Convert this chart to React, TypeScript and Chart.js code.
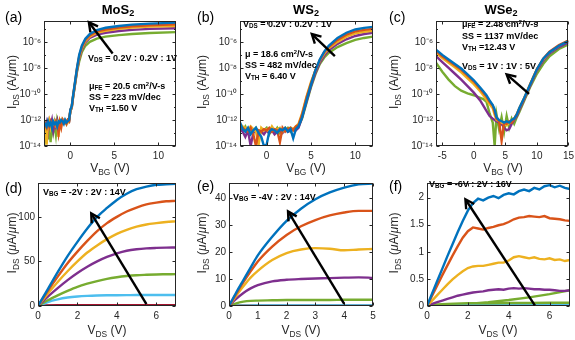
import React, { useEffect, useRef } from "react";
import { Chart, registerables } from "chart.js";

Chart.register(...registerables);

const BLUE = "#0072BD";
const ORANGE = "#D95319";
const YELLOW = "#EDB120";
const PURPLE = "#7E2F8E";
const GREEN = "#77AC30";
const CYAN = "#4DBEEE";
const DRED = "#A2142F";
const AXIS = "#262626";
const FONT = '"Liberation Sans", Arial, Helvetica, sans-serif';

// ---------- (a) MoS2 transfer, V_BG (V) vs log10 I_DS (A/um); V_DS = 1.0, 0.8, 0.6, 0.4, 0.2 V
const aVbg = [-3, -2.85, -2.7, -2.55, -2.4, -2.25, -2.1, -1.95, -1.8, -1.65, -1.5, -1.35, -1.2, -1.05, -0.9, -0.75, -0.6, -0.45, -0.3, -0.15,
  0, 0.15, 0.3, 0.5, 0.75, 1, 1.3, 1.7, 2.2, 3, 4, 5.5, 7, 9, 12];
const aBlue = [-12.2, -12.3, -12.5, -12.1, -12.4, -12.2, -12.6, -12.1, -12.3, -12.2, -12.5, -12.1, -12.2, -12.0, -12.1, -12.3, -12.0, -12.2, -12.1, -12.0,
  -11.2, -10.95, -10.15, -9.2, -8.0, -7.0, -6.3, -5.75, -5.4, -5.1, -4.92, -4.78, -4.68, -4.6, -4.52];
const aOrange = [-12.1, -12.4, -12.6, -12.2, -12.5, -12.1, -12.3, -12.2, -12.4, -12.1, -12.3, -13.0, -12.2, -12.6, -12.0, -12.2, -12.1, -12.3, -12.0, -12.1,
  -11.2, -11.0, -10.2, -9.25, -8.05, -7.1, -6.4, -5.85, -5.5, -5.2, -5.05, -4.9, -4.8, -4.72, -4.65];
const aYellow = [-12.2, -12.5, -13.9, -12.3, -12.0, -12.6, -12.2, -12.3, -12.1, -12.4, -12.2, -13.3, -12.1, -12.4, -12.0, -12.2, -12.0, -12.1, -12.2, -12.0,
  -11.3, -11.0, -10.2, -9.3, -8.1, -7.2, -6.5, -5.95, -5.6, -5.3, -5.15, -5.0, -4.9, -4.83, -4.78];
const aPurple = [-12.3, -12.6, -12.2, -12.9, -12.1, -12.4, -12.0, -12.8, -12.2, -12.5, -12.1, -12.9, -12.2, -12.3, -12.1, -12.0, -12.2, -12.1, -12.0, -12.1,
  -11.3, -11.05, -10.25, -9.35, -8.2, -7.3, -6.6, -6.05, -5.7, -5.45, -5.3, -5.17, -5.08, -5.0, -4.95];
const aGreen = [-12.4, -13.2, -12.0, -13.5, -12.2, -13.7, -12.1, -12.9, -12.3, -13.1, -12.0, -12.4, -12.1, -12.3, -12.0, -12.2, -12.1, -12.3, -12.0, -12.1,
  -11.3, -11.1, -10.3, -9.4, -8.3, -7.5, -6.8, -6.3, -6.0, -5.75, -5.6, -5.48, -5.4, -5.32, -5.25];

// ---------- (b) WS2 transfer
const bVbg = [-3, -2.7, -2.4, -2.1, -1.8, -1.5, -1.2, -0.9, -0.6, -0.3, 0, 0.3, 0.6, 0.9, 1.2, 1.5, 1.8, 2.1, 2.4, 2.7, 3.0, 3.3, 3.6,
  4, 4.5, 5, 5.5, 6, 6.5, 7, 8, 9, 10, 11, 12];
const bBlue = [-12.2, -12.7, -12.9, -12.6, -13.1, -12.8, -12.6, -13.0, -13.3, -14.0, -13.9, -12.9, -12.7, -12.8, -13.0, -12.7, -12.8, -12.6, -12.9, -12.7, -13.4, -12.7, -12.5,
  -11.8, -10.5, -9.3, -8.2, -7.35, -6.75, -6.3, -5.7, -5.3, -5.05, -4.93, -4.85];
const bOrange = [-12.5, -12.6, -12.8, -12.9, -12.6, -13.1, -14.0, -12.8, -12.9, -12.7, -12.8, -12.6, -12.9, -12.7, -12.8, -13.7, -12.6, -12.9, -12.7, -12.6, -12.8, -12.5, -12.4,
  -11.6, -10.3, -9.2, -8.2, -7.4, -6.8, -6.4, -5.85, -5.45, -5.2, -5.08, -5.0];
const bYellow = [-12.3, -12.5, -12.6, -12.8, -12.5, -12.7, -12.9, -13.9, -12.6, -12.8, -12.7, -12.9, -12.5, -12.8, -12.7, -12.6, -12.9, -12.6, -12.8, -12.6, -12.7, -12.5, -12.3,
  -11.5, -10.2, -9.1, -8.2, -7.45, -6.9, -6.5, -6.0, -5.6, -5.35, -5.22, -5.15];
const bPurple = [-12.7, -12.9, -13.3, -12.8, -14.0, -13.0, -12.8, -13.2, -12.9, -13.1, -12.8, -13.0, -12.8, -13.1, -12.9, -12.8, -13.0, -12.7, -12.9, -12.8, -12.7, -12.8, -12.6,
  -11.8, -10.6, -9.4, -8.4, -7.6, -7.05, -6.65, -6.15, -5.8, -5.55, -5.4, -5.3];
const bGreen = [-12.6, -12.8, -12.5, -13.0, -12.7, -12.9, -12.6, -13.0, -12.7, -12.8, -12.6, -13.1, -12.7, -12.9, -12.6, -13.0, -12.7, -12.8, -12.6, -12.9, -12.7, -12.6, -12.5,
  -11.9, -10.7, -9.5, -8.5, -7.7, -7.2, -6.85, -6.4, -6.1, -5.85, -5.7, -5.6];

// ---------- (c) WSe2 transfer; V_DS = 5, 4, 3, 2, 1 V
const cVbg = [-6, -5, -4, -3, -2, -1, 0, 1, 1.5, 2, 2.5, 3, 3.3, 3.6, 4, 4.4, 4.8, 5.2, 5.6, 6, 6.4, 6.8, 7.2, 8, 9, 10, 11, 12, 13.5, 15];
const cBlue = [-6.6, -7.0, -7.35, -7.7, -8.05, -8.5, -8.95, -9.5, -9.8, -10.1, -10.5, -10.85, -11.2, -11.8, -12.0, -12.1, -12.2, -12.1, -12.2, -12.0,
  -11.9, -11.6, -11.1, -10.3, -9.2, -8.1, -7.3, -6.8, -6.3, -5.95];
const cOrange = [-6.7, -7.1, -7.45, -7.8, -8.15, -8.6, -9.05, -9.6, -9.9, -10.2, -10.6, -10.9, -11.4, -11.9, -12.1, -13.6, -12.2, -12.3, -12.1, -12.2,
  -11.9, -11.6, -11.15, -10.35, -9.2, -8.1, -7.3, -6.75, -6.25, -5.9];
const cYellow = [-6.85, -7.25, -7.6, -7.95, -8.35, -8.8, -9.25, -9.8, -10.1, -10.45, -10.8, -11.1, -11.6, -12.0, -12.1, -12.2, -12.3, -12.4, -12.2, -12.1,
  -11.9, -11.55, -11.1, -10.3, -9.15, -8.1, -7.35, -6.8, -6.3, -5.9];
const cPurple = [-7.1, -7.55, -8.0, -8.45, -8.9, -9.4, -9.9, -10.5, -10.9, -11.3, -11.7, -11.9, -12.0, -12.1, -12.2, -12.3, -12.6, -12.8, -12.7, -12.3,
  -12.0, -11.7, -11.25, -10.4, -9.3, -8.2, -7.45, -6.9, -6.4, -6.05];
const cGreen = [-7.6, -8.3, -8.9, -9.4, -9.75, -9.95, -10.1, -10.3, -10.4, -10.6, -11.5, -12.2, -14.0, -11.6, -12.7, -11.8, -12.9, -11.7, -12.6, -11.9,
  -12.3, -11.8, -11.4, -10.5, -9.4, -8.45, -7.7, -7.1, -6.55, -6.2];

// ---------- (d) MoS2 output, V_DS (V) vs I_DS (uA/um); V_BG = 14 ... -2 V
const dVds = [0, 0.5, 1, 1.5, 2, 2.5, 3, 3.5, 4, 4.5, 5, 5.5, 6, 6.5, 7];
const dVbg14 = [0, 19, 38, 56, 72, 87, 100, 110, 119, 126, 131, 134, 136, 136.5, 137];
const dVbg12 = [0, 17, 33, 48, 61, 73, 84, 93, 100, 106, 110.5, 114, 116, 117.5, 118];
const dVbg10 = [0, 14, 27, 39, 50, 60, 68, 75, 81, 85.5, 89, 91.5, 93, 94.2, 95];
const dVbg8 = [0, 10.5, 20, 29, 37, 44, 50, 55, 59, 62, 63.7, 64.7, 65.2, 65.5, 65.7];
const dVbg6 = [0, 6.5, 12, 17, 21.5, 25, 28, 30.5, 32.3, 33.6, 34.5, 35, 35.4, 35.6, 35.8];
const dVbg4 = [0, 4.5, 7.5, 9.5, 10.7, 11.4, 11.8, 12, 12.1, 12.2, 12.3, 12.3, 12.4, 12.4, 12.4];
const dVbg2 = [0, 0.5, 0.8, 0.9, 1, 1, 1, 1, 1, 1, 1, 1, 1, 1, 1];
const dVbg0 = [0, 0.1, 0.1, 0.1, 0.1, 0.1, 0.1, 0.1, 0.1, 0.1, 0.1, 0.1, 0.1, 0.1, 0.1];
const dVbgM2 = [0, 0, 0, 0, 0, 0, 0, 0, 0, 0, 0, 0, 0, 0, 0];

// ---------- (e) WS2 output; V_BG = 14 ... -4 V
const eVds = [0, 0.25, 0.5, 0.75, 1, 1.5, 2, 2.5, 3, 3.5, 4, 4.5, 5];
const eVbg14 = [0, 5, 9.6, 14.2, 18.7, 25.6, 31.5, 36, 39.5, 42, 43.8, 45, 45.3];
const eVbg12 = [0, 4.5, 8.8, 12.8, 16.5, 22, 26.3, 29.5, 31.8, 33.5, 34.6, 35.2, 35.2];
const eVbg10 = [0, 3.8, 7.3, 10.5, 13, 17, 19.6, 20.9, 21.4, 21.2, 20.6, 20.9, 21.1];
const eVbg8 = [0, 2.6, 4.8, 6.5, 7.7, 9.1, 9.7, 10, 10.2, 10.3, 10.5, 10.6, 10.4];
const eVbg6 = [0, 1, 1.6, 1.9, 2, 2.1, 2.2, 2.2, 2.2, 2.2, 2.3, 2.3, 2.3];
const eVbg4 = [0, 0.1, 0.15, 0.15, 0.2, 0.2, 0.2, 0.2, 0.2, 0.2, 0.2, 0.2, 0.2];
const eVbgLow = [0, 0, 0, 0, 0, 0, 0, 0, 0, 0, 0, 0, 0];

// ---------- (f) WSe2 output; V_BG = 16 ... -6 V
const fVds = [0, 0.25, 0.5, 0.75, 1, 1.25, 1.5, 1.75, 2, 2.25, 2.5, 2.75, 3, 3.25, 3.5, 3.75, 4, 4.25, 4.5, 4.75, 5, 5.25, 5.5, 5.75, 6, 6.25, 6.5, 6.75, 7];
const fVbg16 = [0, 0.23, 0.46, 0.69, 0.92, 1.14, 1.36, 1.57, 1.76, 1.9, 1.98, 1.95, 2.0, 2.03, 1.99, 2.05, 2.08, 2.06, 2.12, 2.15, 2.12, 2.18, 2.15, 2.21, 2.23, 2.19, 2.22, 2.18, 2.16];
const fVbg14 = [0, 0.19, 0.38, 0.57, 0.75, 0.93, 1.1, 1.26, 1.38, 1.45, 1.43, 1.41, 1.44, 1.46, 1.49, 1.51, 1.55, 1.6, 1.63, 1.64, 1.66, 1.65, 1.64, 1.66, 1.62, 1.61, 1.6, 1.58, 1.57];
const fVbg12 = [0, 0.1, 0.2, 0.3, 0.4, 0.49, 0.57, 0.64, 0.7, 0.73, 0.74, 0.74, 0.76, 0.78, 0.8, 0.8, 0.84, 0.9, 0.92, 0.9, 0.88, 0.9, 0.87, 0.86, 0.88, 0.85, 0.86, 0.83, 0.85];
const fVbg10 = [0, 0.04, 0.07, 0.1, 0.13, 0.16, 0.19, 0.21, 0.23, 0.25, 0.26, 0.27, 0.29, 0.3, 0.31, 0.3, 0.32, 0.33, 0.32, 0.33, 0.32, 0.31, 0.31, 0.3, 0.3, 0.29, 0.28, 0.28, 0.29];
const fVdsC = [0, 0.5, 1, 2, 3, 4, 5, 6, 7];
const fVbg8 = [0, 0.03, 0.04, 0.05, 0.05, 0.055, 0.055, 0.06, 0.06];
const fVbg6 = [0, 0.01, 0.015, 0.02, 0.02, 0.02, 0.02, 0.02, 0.02];
const fVbgMid = [0, 0.005, 0.005, 0.005, 0.005, 0.005, 0.005, 0.005, 0.005];
const fVbgM4 = [0, 0.005, 0.008, 0.01, 0.01, 0.01, 0.01, 0.01, 0.01];
const fVbgM6 = [0, 0.01, 0.02, 0.04, 0.07, 0.11, 0.16, 0.22, 0.29];

// tick values
const topXTicksAB = [0, 5, 10];
const topXTicksC = [-5, 0, 5, 10, 15];
const logYTicks = [1e-14, 1e-12, 1e-10, 1e-8, 1e-6];
const logYMinor = [1e-13, 1e-11, 1e-9, 1e-7, 1e-5];
const dXTicks = [0, 2, 4, 6];
const dYTicks = [0, 50, 100];
const eXTicks = [0, 1, 2, 3, 4, 5];
const eYTicks = [0, 10, 20, 30, 40];
const fXTicks = [0, 2, 4, 6];
const fYTicks = [0, 0.5, 1, 1.5, 2];

type Series = { x: number[]; y: number[]; color: string; smooth?: boolean };
type PanelCfg = {
  l: number; t: number; r: number; b: number;
  yAxisW: number;
  xMin: number; xMax: number; xTicks: number[];
  log: boolean; yMin: number; yMax: number; yTicks: number[]; yMinor?: number[];
  series: Series[];
  arrow: number[];
  lineW: number;
};

const SUP: Record<string, string> = { "-": "\u207B", "0": "\u2070", "1": "\u00B9", "2": "\u00B2", "3": "\u00B3", "4": "\u2074", "5": "\u2075", "6": "\u2076", "7": "\u2077", "8": "\u2078", "9": "\u2079" };
const supStr = (s: string) => s.split("").map((c) => SUP[c] || c).join("");

function framePlugin(cfg: PanelCfg) {
  return {
    id: "frameArrow",
    afterDatasetsDraw(chart: any) {
      const { ctx, chartArea: a, scales } = chart;
      const xs = scales.x;
      const ys = scales.y;
      ctx.save();
      ctx.strokeStyle = AXIS;
      ctx.lineWidth = 1;
      const L = Math.round(a.left) + 0.5;
      const R = Math.round(a.right) - 0.5;
      const T = Math.round(a.top) + 0.5;
      const B = Math.round(a.bottom) - 0.5;
      ctx.strokeRect(L, T, R - L, B - T);
      ctx.beginPath();
      const tl = 3;
      cfg.xTicks.forEach((v) => {
        const p = Math.round(xs.getPixelForValue(v)) + 0.5;
        ctx.moveTo(p, B); ctx.lineTo(p, B - tl);
        ctx.moveTo(p, T); ctx.lineTo(p, T + tl);
      });
      cfg.yTicks.forEach((v) => {
        const p = Math.round(ys.getPixelForValue(v)) + 0.5;
        ctx.moveTo(L, p); ctx.lineTo(L + tl, p);
        ctx.moveTo(R, p); ctx.lineTo(R - tl, p);
      });
      (cfg.yMinor || []).forEach((v) => {
        const p = Math.round(ys.getPixelForValue(v)) + 0.5;
        ctx.moveTo(L, p); ctx.lineTo(L + 1.5, p);
        ctx.moveTo(R, p); ctx.lineTo(R - 1.5, p);
      });
      ctx.stroke();
      // arrow
      const [x1, y1, x2, y2] = cfg.arrow;
      const px1 = xs.getPixelForValue(x1);
      const py1 = ys.getPixelForValue(cfg.log ? Math.pow(10, y1) : y1);
      const px2 = xs.getPixelForValue(x2);
      const py2 = ys.getPixelForValue(cfg.log ? Math.pow(10, y2) : y2);
      const ang = Math.atan2(py2 - py1, px2 - px1);
      ctx.strokeStyle = "#000";
      ctx.lineWidth = 2.4;
      ctx.lineCap = "butt";
      ctx.lineJoin = "miter";
      ctx.beginPath();
      ctx.moveTo(px1, py1);
      ctx.lineTo(px2 - Math.cos(ang) * 1.5, py2 - Math.sin(ang) * 1.5);
      ctx.stroke();
      const hl = 10;
      const ha = 0.5;
      ctx.beginPath();
      ctx.moveTo(px2 - hl * Math.cos(ang - ha), py2 - hl * Math.sin(ang - ha));
      ctx.lineTo(px2, py2);
      ctx.lineTo(px2 - hl * Math.cos(ang + ha), py2 - hl * Math.sin(ang + ha));
      ctx.stroke();
      ctx.restore();
    },
  };
}

const PAD_TOP = 6;
const PAD_RIGHT = 8;
const X_AXIS_H = 18;

function Panel({ cfg }: { cfg: PanelCfg }) {
  const ref = useRef<HTMLCanvasElement>(null);
  const w = cfg.r - cfg.l + cfg.yAxisW + PAD_RIGHT;
  const h = cfg.b - cfg.t + PAD_TOP + X_AXIS_H;
  useEffect(() => {
    const tickFont = { family: FONT, size: 10 };
    const chart = new Chart(ref.current as HTMLCanvasElement, {
      type: "line",
      data: {
        datasets: cfg.series.map((s) => ({
          data: s.x.map((x, i) => ({ x, y: cfg.log ? Math.pow(10, s.y[i]) : s.y[i] })),
          borderColor: s.color,
          backgroundColor: s.color,
          borderWidth: cfg.lineW,
          pointRadius: 0,
          fill: false,
          tension: s.smooth ? 0.4 : 0,
          cubicInterpolationMode: s.smooth ? "monotone" : "default",
        })),
      },
      options: {
        animation: false,
        responsive: false,
        devicePixelRatio: 1,
        events: [],
        layout: { padding: { top: PAD_TOP, right: PAD_RIGHT, left: 0, bottom: 0 } },
        plugins: { legend: { display: false }, tooltip: { enabled: false }, title: { display: false } },
        scales: {
          x: {
            type: "linear",
            min: cfg.xMin,
            max: cfg.xMax,
            grid: { display: false, drawTicks: false },
            border: { display: false },
            ticks: { color: AXIS, font: tickFont, padding: 4, maxRotation: 0, autoSkip: false, callback: (v: any) => String(v) },
            afterBuildTicks: (s: any) => { s.ticks = cfg.xTicks.map((v) => ({ value: v })); },
            afterFit: (s: any) => { s.height = X_AXIS_H; },
          },
          y: {
            type: cfg.log ? "logarithmic" : "linear",
            min: cfg.yMin,
            max: cfg.yMax,
            grid: { display: false, drawTicks: false },
            border: { display: false },
            ticks: {
              color: AXIS, font: tickFont, padding: 3, autoSkip: false,
              callback: (v: any) => cfg.log ? "10" + supStr(String(Math.round(Math.log10(Number(v))))) : String(v),
            },
            afterBuildTicks: (s: any) => { s.ticks = cfg.yTicks.map((v) => ({ value: v })); },
            afterFit: (s: any) => { s.width = cfg.yAxisW; },
          },
        },
      } as any,
      plugins: [framePlugin(cfg) as any],
    });
    return () => chart.destroy();
  }, []);
  return (
    <canvas
      ref={ref}
      width={w}
      height={h}
      style={{ position: "absolute", left: cfg.l - cfg.yAxisW, top: cfg.t - PAD_TOP, width: w, height: h }}
    />
  );
}

const Sb = ({ children }: { children: any }) => (
  <sub style={{ fontSize: "0.7em", verticalAlign: "-0.3em", lineHeight: 0 }}>{children}</sub>
);
const Sp = ({ children }: { children: any }) => (
  <sup style={{ fontSize: "0.65em", verticalAlign: "0.5em", lineHeight: 0 }}>{children}</sup>
);

function Txt({ x, y, size, bold, center, rot, color, children }: any) {
  let tf = center ? "translate(-50%,-50%)" : "translate(0,-50%)";
  if (rot) tf += " rotate(-90deg)";
  return (
    <div
      style={{
        position: "absolute", left: x, top: y, transform: tf, fontFamily: FONT, fontSize: size,
        fontWeight: bold ? 700 : 400, whiteSpace: "nowrap", lineHeight: 1, color: color || "#000",
      }}
    >
      {children}
    </div>
  );
}

const TOP = 18, TOPB = 146, BOT = 180, BOTB = 306;
const LW = 2.4;

const cfgA: PanelCfg = {
  l: 44, t: TOP, r: 176, b: TOPB, yAxisW: 34, xMin: -3, xMax: 12, xTicks: topXTicksAB,
  log: true, yMin: 1e-14, yMax: 4e-5, yTicks: logYTicks, yMinor: logYMinor, lineW: LW,
  arrow: [4.8, -6.9, 2.1, -4.5],
  series: [
    { x: aVbg, y: aBlue, color: BLUE }, { x: aVbg, y: aOrange, color: ORANGE }, { x: aVbg, y: aYellow, color: YELLOW },
    { x: aVbg, y: aPurple, color: PURPLE }, { x: aVbg, y: aGreen, color: GREEN },
  ],
};
const cfgB: PanelCfg = {
  l: 240, t: TOP, r: 373, b: TOPB, yAxisW: 34, xMin: -3, xMax: 12, xTicks: topXTicksAB,
  log: true, yMin: 1e-14, yMax: 4e-5, yTicks: logYTicks, yMinor: logYMinor, lineW: LW,
  arrow: [7.7, -7.1, 5.1, -5.4],
  series: [
    { x: bVbg, y: bBlue, color: BLUE }, { x: bVbg, y: bOrange, color: ORANGE }, { x: bVbg, y: bYellow, color: YELLOW },
    { x: bVbg, y: bPurple, color: PURPLE }, { x: bVbg, y: bGreen, color: GREEN },
  ],
};
const cfgC: PanelCfg = {
  l: 436, t: TOP, r: 570, b: TOPB, yAxisW: 34, xMin: -6, xMax: 15, xTicks: topXTicksC,
  log: true, yMin: 1e-14, yMax: 4e-5, yTicks: logYTicks, yMinor: logYMinor, lineW: LW,
  arrow: [8.75, -10.0, 5.2, -8.5],
  series: [
    { x: cVbg, y: cBlue, color: BLUE }, { x: cVbg, y: cOrange, color: ORANGE }, { x: cVbg, y: cYellow, color: YELLOW },
    { x: cVbg, y: cPurple, color: PURPLE }, { x: cVbg, y: cGreen, color: GREEN },
  ],
};
const cfgD: PanelCfg = {
  l: 38, t: BOT, r: 176, b: BOTB, yAxisW: 26, xMin: 0, xMax: 7, xTicks: dXTicks,
  log: false, yMin: 0, yMax: 138, yTicks: dYTicks, lineW: LW,
  arrow: [5.5, 2, 2.7, 104],
  series: [
    { x: dVds, y: dVbg14, color: BLUE, smooth: true }, { x: dVds, y: dVbg12, color: ORANGE, smooth: true },
    { x: dVds, y: dVbg10, color: YELLOW, smooth: true }, { x: dVds, y: dVbg8, color: PURPLE, smooth: true },
    { x: dVds, y: dVbg6, color: GREEN, smooth: true }, { x: dVds, y: dVbg4, color: CYAN, smooth: true },
    { x: dVds, y: dVbg2, color: DRED, smooth: true }, { x: dVds, y: dVbg0, color: BLUE, smooth: true },
    { x: dVds, y: dVbgM2, color: ORANGE, smooth: true },
  ],
};
const cfgE: PanelCfg = {
  l: 229, t: BOT, r: 373, b: BOTB, yAxisW: 20, xMin: 0, xMax: 5, xTicks: eXTicks,
  log: false, yMin: 0, yMax: 45.5, yTicks: eYTicks, lineW: LW,
  arrow: [4.0, 0.8, 2.05, 35],
  series: [
    { x: eVds, y: eVbg14, color: BLUE, smooth: true }, { x: eVds, y: eVbg12, color: ORANGE, smooth: true },
    { x: eVds, y: eVbg10, color: YELLOW, smooth: true }, { x: eVds, y: eVbg8, color: PURPLE, smooth: true },
    { x: eVds, y: eVbg6, color: GREEN, smooth: true }, { x: eVds, y: eVbg4, color: CYAN, smooth: true },
    { x: eVds, y: eVbgLow, color: DRED }, { x: eVds, y: eVbgLow, color: BLUE },
    { x: eVds, y: eVbgLow, color: ORANGE }, { x: eVds, y: eVbgLow, color: YELLOW },
  ],
};
const cfgF: PanelCfg = {
  l: 427, t: BOT, r: 570, b: BOTB, yAxisW: 26, xMin: 0, xMax: 7, xTicks: fXTicks,
  log: false, yMin: 0, yMax: 2.27, yTicks: fYTicks, lineW: LW,
  arrow: [5.28, 0.01, 1.88, 1.97],
  series: [
    { x: fVds, y: fVbg16, color: BLUE }, { x: fVds, y: fVbg14, color: ORANGE },
    { x: fVds, y: fVbg12, color: YELLOW }, { x: fVds, y: fVbg10, color: PURPLE },
    { x: fVdsC, y: fVbg8, color: GREEN }, { x: fVdsC, y: fVbg6, color: CYAN },
    { x: fVdsC, y: fVbgMid, color: DRED }, { x: fVdsC, y: fVbgMid, color: BLUE },
    { x: fVdsC, y: fVbgMid, color: ORANGE }, { x: fVdsC, y: fVbgMid, color: YELLOW },
    { x: fVdsC, y: fVbgM4, color: PURPLE }, { x: fVdsC, y: fVbgM6, color: GREEN },
  ],
};

export default function App() {
  const ann = 9;
  return (
    <div style={{ position: "absolute", left: 0, top: 0, width: 575, height: 340, background: "#fff", overflow: "hidden" }}>
      <Panel cfg={cfgA} />
      <Panel cfg={cfgB} />
      <Panel cfg={cfgC} />
      <Panel cfg={cfgD} />
      <Panel cfg={cfgE} />
      <Panel cfg={cfgF} />

      {/* titles */}
      <Txt x={118} y={9} size={13} bold center>MoS<Sb>2</Sb></Txt>
      <Txt x={306} y={9} size={13} bold center>WS<Sb>2</Sb></Txt>
      <Txt x={501} y={9} size={13} bold center>WSe<Sb>2</Sb></Txt>

      {/* panel labels */}
      <Txt x={5} y={17} size={14}>(a)</Txt>
      <Txt x={197} y={17} size={14}>(b)</Txt>
      <Txt x={389} y={17} size={14}>(c)</Txt>
      <Txt x={5} y={188} size={14}>(d)</Txt>
      <Txt x={197} y={186} size={14}>(e)</Txt>
      <Txt x={389} y={186} size={14}>(f)</Txt>

      {/* axis titles */}
      <Txt x={12} y={82} size={12} center rot color={AXIS}>I<Sb>DS</Sb> (A/<i>μ</i>m)</Txt>
      <Txt x={202} y={82} size={12} center rot color={AXIS}>I<Sb>DS</Sb> (A/<i>μ</i>m)</Txt>
      <Txt x={394} y={82} size={12} center rot color={AXIS}>I<Sb>DS</Sb> (A/<i>μ</i>m)</Txt>
      <Txt x={12} y={243} size={12} center rot color={AXIS}>I<Sb>DS</Sb> (<i>μ</i>A/<i>μ</i>m)</Txt>
      <Txt x={202} y={243} size={12} center rot color={AXIS}>I<Sb>DS</Sb> (<i>μ</i>A/<i>μ</i>m)</Txt>
      <Txt x={394} y={243} size={12} center rot color={AXIS}>I<Sb>DS</Sb> (<i>μ</i>A/<i>μ</i>m)</Txt>
      <Txt x={110} y={168} size={12} center color={AXIS}>V<Sb>BG</Sb> (V)</Txt>
      <Txt x={306} y={168} size={12} center color={AXIS}>V<Sb>BG</Sb> (V)</Txt>
      <Txt x={503} y={168} size={12} center color={AXIS}>V<Sb>BG</Sb> (V)</Txt>
      <Txt x={107} y={330} size={12} center color={AXIS}>V<Sb>DS</Sb> (V)</Txt>
      <Txt x={301} y={330} size={12} center color={AXIS}>V<Sb>DS</Sb> (V)</Txt>
      <Txt x={498} y={330} size={12} center color={AXIS}>V<Sb>DS</Sb> (V)</Txt>

      {/* annotations (a) */}
      <Txt x={88} y={58} size={ann} bold>V<Sb>DS</Sb> = 0.2V : 0.2V : 1V</Txt>
      <Txt x={89} y={86} size={ann} bold>μ<Sb>FE</Sb> = 20.5 cm<Sp>2</Sp>/V-s</Txt>
      <Txt x={89} y={97} size={ann} bold>SS = 223 mV/dec</Txt>
      <Txt x={89} y={108} size={ann} bold>V<Sb>TH</Sb> =1.50 V</Txt>

      {/* annotations (b) */}
      <Txt x={243} y={24} size={ann} bold>V<Sb>DS</Sb> = 0.2V : 0.2V : 1V</Txt>
      <Txt x={245} y={54} size={ann} bold>μ = 18.6 cm<Sp>2</Sp>/V-s</Txt>
      <Txt x={245} y={65} size={ann} bold>SS = 482 mV/dec</Txt>
      <Txt x={245} y={76} size={ann} bold>V<Sb>TH</Sb> = 6.40 V</Txt>

      {/* annotations (c) */}
      <Txt x={462} y={24} size={ann} bold>μ<Sb>FE</Sb> = 2.48 cm<Sp>2</Sp>/V-s</Txt>
      <Txt x={462} y={36} size={ann} bold>SS = 1137 mV/dec</Txt>
      <Txt x={462} y={47} size={ann} bold>V<Sb>TH</Sb> =12.43 V</Txt>
      <Txt x={462} y={66} size={ann} bold>V<Sb>DS</Sb> = 1V : 1V : 5V</Txt>

      {/* annotations bottom */}
      <Txt x={43} y={192} size={ann} bold>V<Sb>BG</Sb> = -2V : 2V : 14V</Txt>
      <Txt x={233} y={197} size={ann} bold>V<Sb>BG</Sb> = -4V : 2V : 14V</Txt>
      <Txt x={429} y={184} size={ann} bold>V<Sb>BG</Sb> = -6V : 2V : 16V</Txt>
    </div>
  );
}
